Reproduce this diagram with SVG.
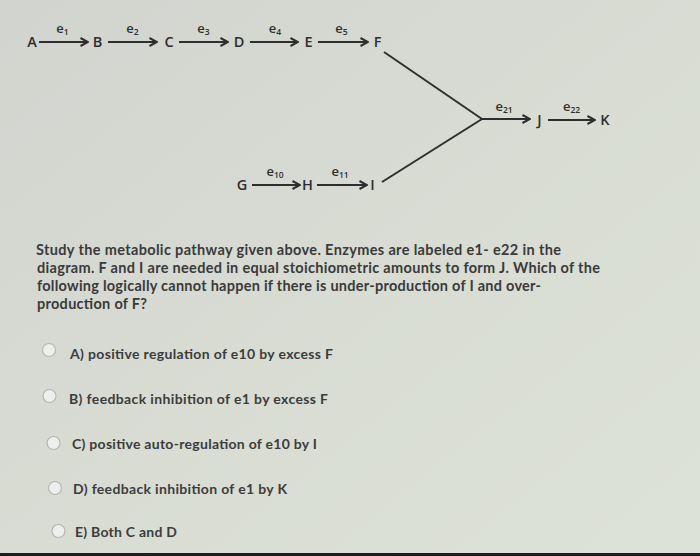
<svg xmlns="http://www.w3.org/2000/svg" width="700" height="556" viewBox="0 0 700 556">
<defs>
<linearGradient id="bg" x1="0" y1="0" x2="1" y2="1">
<stop offset="0" stop-color="#d2d4cf"/>
<stop offset="0.5" stop-color="#d8dcd3"/>
<stop offset="1" stop-color="#dde2d8"/>
</linearGradient>
<marker id="ah" viewBox="0 0 10 10" refX="9" refY="5" markerWidth="10" markerHeight="10" markerUnits="userSpaceOnUse" orient="auto">
<path d="M1.5,1 L9,5 L1.5,9" fill="none" stroke="#2e2e2e" stroke-width="2"/>
</marker>
</defs>
<style>
.node{font-family:"Open Sans","Liberation Sans",sans-serif;font-size:14.5px;font-weight:600;fill:#2e2e2e;text-anchor:middle}
.enz{font-family:"Open Sans","Liberation Sans",sans-serif;font-size:13px;font-weight:600;fill:#2e2e2e;text-anchor:middle}
.sub{font-size:8.5px}
.arr{stroke:#2e2e2e;stroke-width:2;fill:none;marker-end:url(#ah)}
.ln{stroke:#2e2e2e;stroke-width:2;fill:none}
.q{font-family:Lato,"Liberation Sans",sans-serif;font-size:14.5px;font-weight:700;fill:#3a3a3a}
.opt{font-family:Lato,"Liberation Sans",sans-serif;font-size:14px;font-weight:700;fill:#3c3c3c}
.radio{fill:#eeefec;stroke:#b4b6b2;stroke-width:1.2}
</style>
<rect x="0" y="0" width="700" height="556" fill="url(#bg)"/>
<rect x="0" y="553" width="700" height="3" fill="#1e1e1e"/>

<g id="connectors">
<line class="arr" x1="39" y1="42" x2="88" y2="42"/>
<line class="arr" x1="108" y1="42" x2="157" y2="42"/>
<line class="arr" x1="179" y1="42" x2="228" y2="42"/>
<line class="arr" x1="250" y1="42" x2="298" y2="42"/>
<line class="arr" x1="318" y1="42" x2="368" y2="42"/>
<line class="arr" x1="252" y1="185" x2="300" y2="185"/>
<line class="arr" x1="317" y1="185" x2="367" y2="185"/>
<line class="ln" x1="384" y1="52" x2="482" y2="119"/>
<line class="ln" x1="382" y1="182" x2="482" y2="119"/>
<line class="arr" x1="482" y1="119" x2="530" y2="119"/>
<line class="arr" x1="548" y1="120" x2="595" y2="120"/>
<text class="enz" x="62.5" y="33">e<tspan class="sub" dy="2">1</tspan></text>
<text class="enz" x="132.5" y="33">e<tspan class="sub" dy="2">2</tspan></text>
<text class="enz" x="203.5" y="33">e<tspan class="sub" dy="2">3</tspan></text>
<text class="enz" x="275" y="33">e<tspan class="sub" dy="2">4</tspan></text>
<text class="enz" x="341.5" y="33">e<tspan class="sub" dy="2">5</tspan></text>
<text class="enz" x="275" y="176">e<tspan class="sub" dy="2">10</tspan></text>
<text class="enz" x="340" y="176">e<tspan class="sub" dy="2">11</tspan></text>
<text class="enz" x="504" y="111">e<tspan class="sub" dy="2">21</tspan></text>
<text class="enz" x="571.5" y="111">e<tspan class="sub" dy="2">22</tspan></text>
</g>

<g id="node-A"><text class="node" x="32" y="47">A</text></g>
<g id="node-B"><text class="node" x="97.5" y="47">B</text></g>
<g id="node-C"><text class="node" x="169" y="47">C</text></g>
<g id="node-D"><text class="node" x="239" y="47">D</text></g>
<g id="node-E"><text class="node" x="308.5" y="47">E</text></g>
<g id="node-F"><text class="node" x="377.5" y="47">F</text></g>
<g id="node-G"><text class="node" x="242" y="190">G</text></g>
<g id="node-H"><text class="node" x="307.5" y="190">H</text></g>
<g id="node-I"><text class="node" x="372.5" y="190">I</text></g>
<g id="node-J"><text class="node" x="539.5" y="125">J</text></g>
<g id="node-K"><text class="node" x="605" y="125">K</text></g>

<g id="question">
<text class="q" x="36" y="255" textLength="525">Study the metabolic pathway given above. Enzymes are labeled e1- e22 in the</text>
<text class="q" x="37" y="273" textLength="563">diagram. F and I are needed in equal stoichiometric amounts to form J. Which of the</text>
<text class="q" x="37" y="291" textLength="504">following logically cannot happen if there is under-production of I and over-</text>
<text class="q" x="37" y="309" textLength="110">production of F?</text>
</g>

<g id="option-A"><circle class="radio" cx="49" cy="350" r="6.5"/><text class="opt" x="70" y="359" textLength="263">A) positive regulation of e10 by excess F</text></g>
<g id="option-B"><circle class="radio" cx="49.5" cy="396" r="6.5"/><text class="opt" x="69" y="404" textLength="259">B) feedback inhibition of e1 by excess F</text></g>
<g id="option-C"><circle class="radio" cx="53.5" cy="443" r="6.5"/><text class="opt" x="72" y="449" textLength="245">C) positive auto-regulation of e10 by I</text></g>
<g id="option-D"><circle class="radio" cx="55" cy="488" r="6.5"/><text class="opt" x="73" y="494" textLength="214">D) feedback inhibition of e1 by K</text></g>
<g id="option-E"><circle class="radio" cx="58.5" cy="531" r="6.5"/><text class="opt" x="75" y="537" textLength="102">E) Both C and D</text></g>
</svg>
